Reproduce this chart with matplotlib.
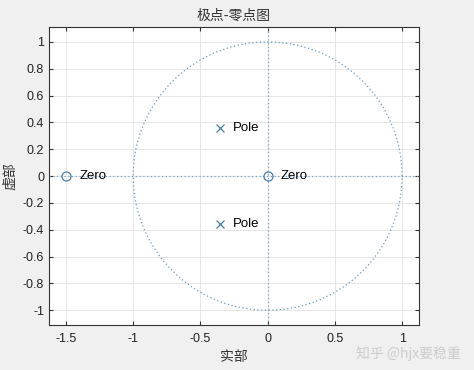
import numpy as np
import matplotlib.pyplot as plt

plt.rcParams['font.family'] = ['Liberation Sans', 'Noto Sans CJK SC', 'DejaVu Sans']

# 零点和极点
zeros_re = [-1.5, 0.0]
zeros_im = [0.0, 0.0]
poles_re = [-0.357, -0.357]
poles_im = [0.358, -0.358]

xticks = [-1.5, -1, -0.5, 0, 0.5, 1]
yticks = [-1, -0.8, -0.6, -0.4, -0.2, 0, 0.2, 0.4, 0.6, 0.8, 1]

mcol = '#4a7fa8'
fig = plt.figure(figsize=(4.74, 3.70), dpi=100, facecolor='#f0f0f0')
ax = fig.add_axes([0.1034, 0.1216, 0.7806, 0.805])
ax.set_facecolor('white')

# 单位圆和坐标轴
t = np.linspace(0, 2 * np.pi, 400)
ax.plot(np.cos(t), np.sin(t), ls=(0, (1, 2)), color='#6a9ab8', lw=0.9)
ax.axhline(0, ls=(0, (1, 2)), color='#7aa4c0', lw=0.9)
ax.axvline(0, ls=(0, (1, 2)), color='#7aa4c0', lw=0.9)

ax.plot(zeros_re, zeros_im, 'o', mfc='none', mec=mcol, ms=6.5, mew=0.9)
ax.plot(poles_re, poles_im, 'x', color=mcol, ms=6, mew=0.9)
for x, y in zip(zeros_re, zeros_im):
    ax.text(x + 0.1, y, 'Zero', va='center', fontsize=9.5)
for x, y in zip(poles_re, poles_im):
    ax.text(x + 0.1, y, 'Pole', va='center', fontsize=9.5)

ax.set_xlim(-1.626, 1.126)
ax.set_ylim(-1.11, 1.11)
ax.set_xticks(xticks)
ax.set_xticklabels(['-1.5', '-1', '-0.5', '0', '0.5', '1'])
ax.set_yticks(yticks)
ax.set_yticklabels(['-1', '-0.8', '-0.6', '-0.4', '-0.2', '0', '0.2', '0.4', '0.6', '0.8', '1'])
ax.tick_params(direction='in', top=True, right=True, labelsize=9, length=3, color='#333333', labelcolor='#222222')
ax.tick_params(axis='x', pad=6)
ax.grid(True, color='#e6e6e6', lw=0.7)
ax.set_axisbelow(True)
for s in ax.spines.values():
    s.set_color('#333333')
    s.set_linewidth(0.8)

ax.set_title('极点-零点图', fontsize=10, family=['Noto Sans CJK SC'], color='#333333', pad=5)
ax.set_xlabel('实部', fontsize=10, family=['Noto Sans CJK SC'], color='#333333', labelpad=3)
ax.set_ylabel('虚部', fontsize=10, family=['Noto Sans CJK SC'], color='#333333', labelpad=4)

fig.text(0.862, 0.045, '知乎 @hjx要稳重', fontsize=10, color='#cccccc',
         family=['Noto Sans CJK SC', 'DejaVu Sans'], ha='center', va='center')

fig.savefig('out.png', dpi=100, facecolor=fig.get_facecolor())
